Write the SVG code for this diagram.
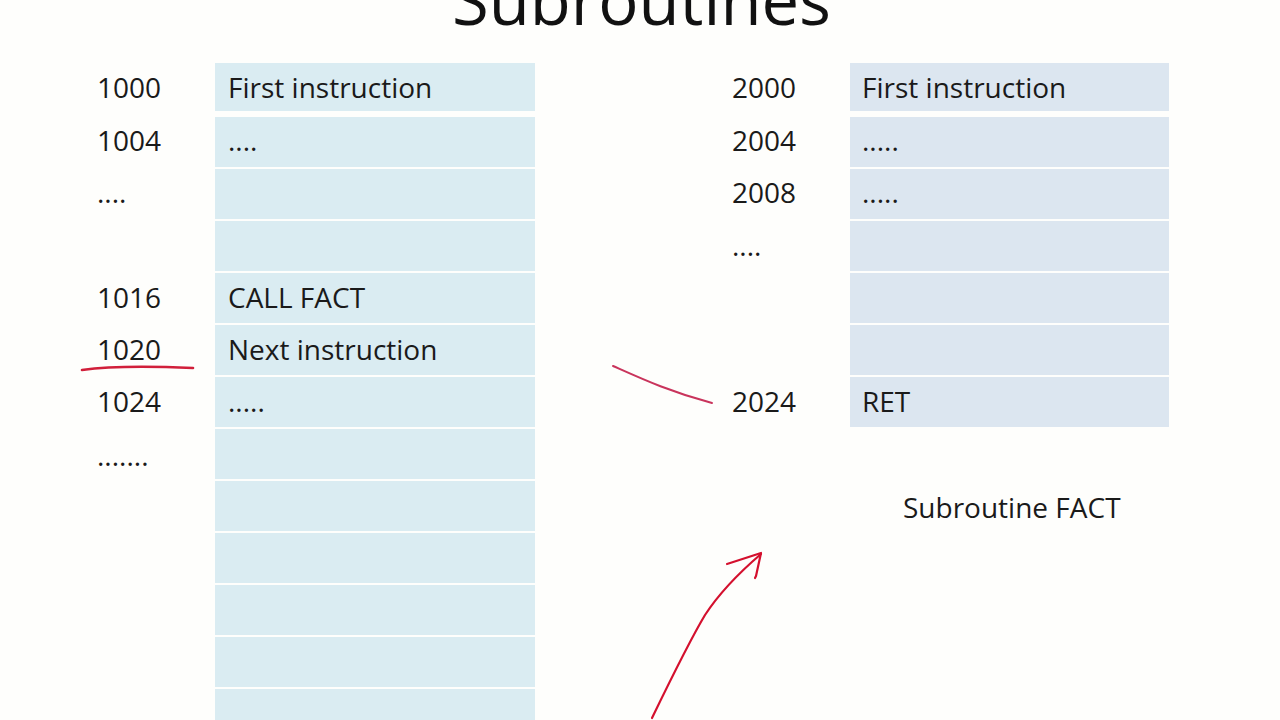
<svg xmlns="http://www.w3.org/2000/svg" width="1280" height="720" viewBox="0 0 1280 720">
<style>
  .t { font-family: "Open Sans", "Liberation Sans", sans-serif; font-size: 28px; fill: #1a1a1a; }
  .title { font-family: "Open Sans", "Liberation Sans", sans-serif; font-size: 67px; fill: #111; }
  .cl { fill: #DAECF2; }
  .cr { fill: #DCE6F0; }
  .ink { fill: none; stroke-linecap: round; stroke-linejoin: round; }
</style>
<rect x="0" y="0" width="1280" height="720" fill="#FEFEFC"/>
<text class="title" x="452" y="25">Subroutines</text>

<g id="main-program">
  <rect class="cl" x="215" y="63" width="320" height="48"/>
  <rect class="cl" x="215" y="117" width="320" height="50"/>
  <rect class="cl" x="215" y="169" width="320" height="50"/>
  <rect class="cl" x="215" y="221" width="320" height="50"/>
  <rect class="cl" x="215" y="273" width="320" height="50"/>
  <rect class="cl" x="215" y="325" width="320" height="50"/>
  <rect class="cl" x="215" y="377" width="320" height="50"/>
  <rect class="cl" x="215" y="429" width="320" height="50"/>
  <rect class="cl" x="215" y="481" width="320" height="50"/>
  <rect class="cl" x="215" y="533" width="320" height="50"/>
  <rect class="cl" x="215" y="585" width="320" height="50"/>
  <rect class="cl" x="215" y="637" width="320" height="50"/>
  <rect class="cl" x="215" y="689" width="320" height="40"/>
  <text class="t" x="97" y="98">1000</text>
  <text class="t" x="97" y="151">1004</text>
  <text class="t" x="97" y="203">....</text>
  <text class="t" x="97" y="308">1016</text>
  <text class="t" x="97" y="360">1020</text>
  <text class="t" x="97" y="412">1024</text>
  <text class="t" x="97" y="466">.......</text>
  <text class="t" x="228" y="98">First instruction</text>
  <text class="t" x="228" y="151">....</text>
  <text class="t" x="228" y="308">CALL FACT</text>
  <text class="t" x="228" y="360">Next instruction</text>
  <text class="t" x="228" y="412">.....</text>
</g>

<g id="subroutine-fact">
  <rect class="cr" x="850" y="63" width="319" height="48"/>
  <rect class="cr" x="850" y="117" width="319" height="50"/>
  <rect class="cr" x="850" y="169" width="319" height="50"/>
  <rect class="cr" x="850" y="221" width="319" height="50"/>
  <rect class="cr" x="850" y="273" width="319" height="50"/>
  <rect class="cr" x="850" y="325" width="319" height="50"/>
  <rect class="cr" x="850" y="377" width="319" height="50"/>
  <text class="t" x="732" y="98">2000</text>
  <text class="t" x="732" y="151">2004</text>
  <text class="t" x="732" y="203">2008</text>
  <text class="t" x="732" y="256">....</text>
  <text class="t" x="732" y="412">2024</text>
  <text class="t" x="862" y="98">First instruction</text>
  <text class="t" x="862" y="151">.....</text>
  <text class="t" x="862" y="203">.....</text>
  <text class="t" x="862" y="412">RET</text>
  <text class="t" x="903" y="518">Subroutine FACT</text>
</g>

<g id="connectors">
  <path class="ink" d="M82 370 C 110 366, 150 366, 193 368" stroke="#D11F3A" stroke-width="2.6"/>
  <path class="ink" d="M613 366 C 640 378, 670 392, 712 403" stroke="#C9345C" stroke-width="2"/>
  <path class="ink" d="M652 718 C 668 685, 690 640, 705 615 C 720 592, 740 572, 761 554" stroke="#D4102E" stroke-width="2.2"/>
  <path class="ink" d="M727 564 L 761 553 L 756 576 L 755 578" stroke="#D4102E" stroke-width="2.2"/>
</g>
</svg>
